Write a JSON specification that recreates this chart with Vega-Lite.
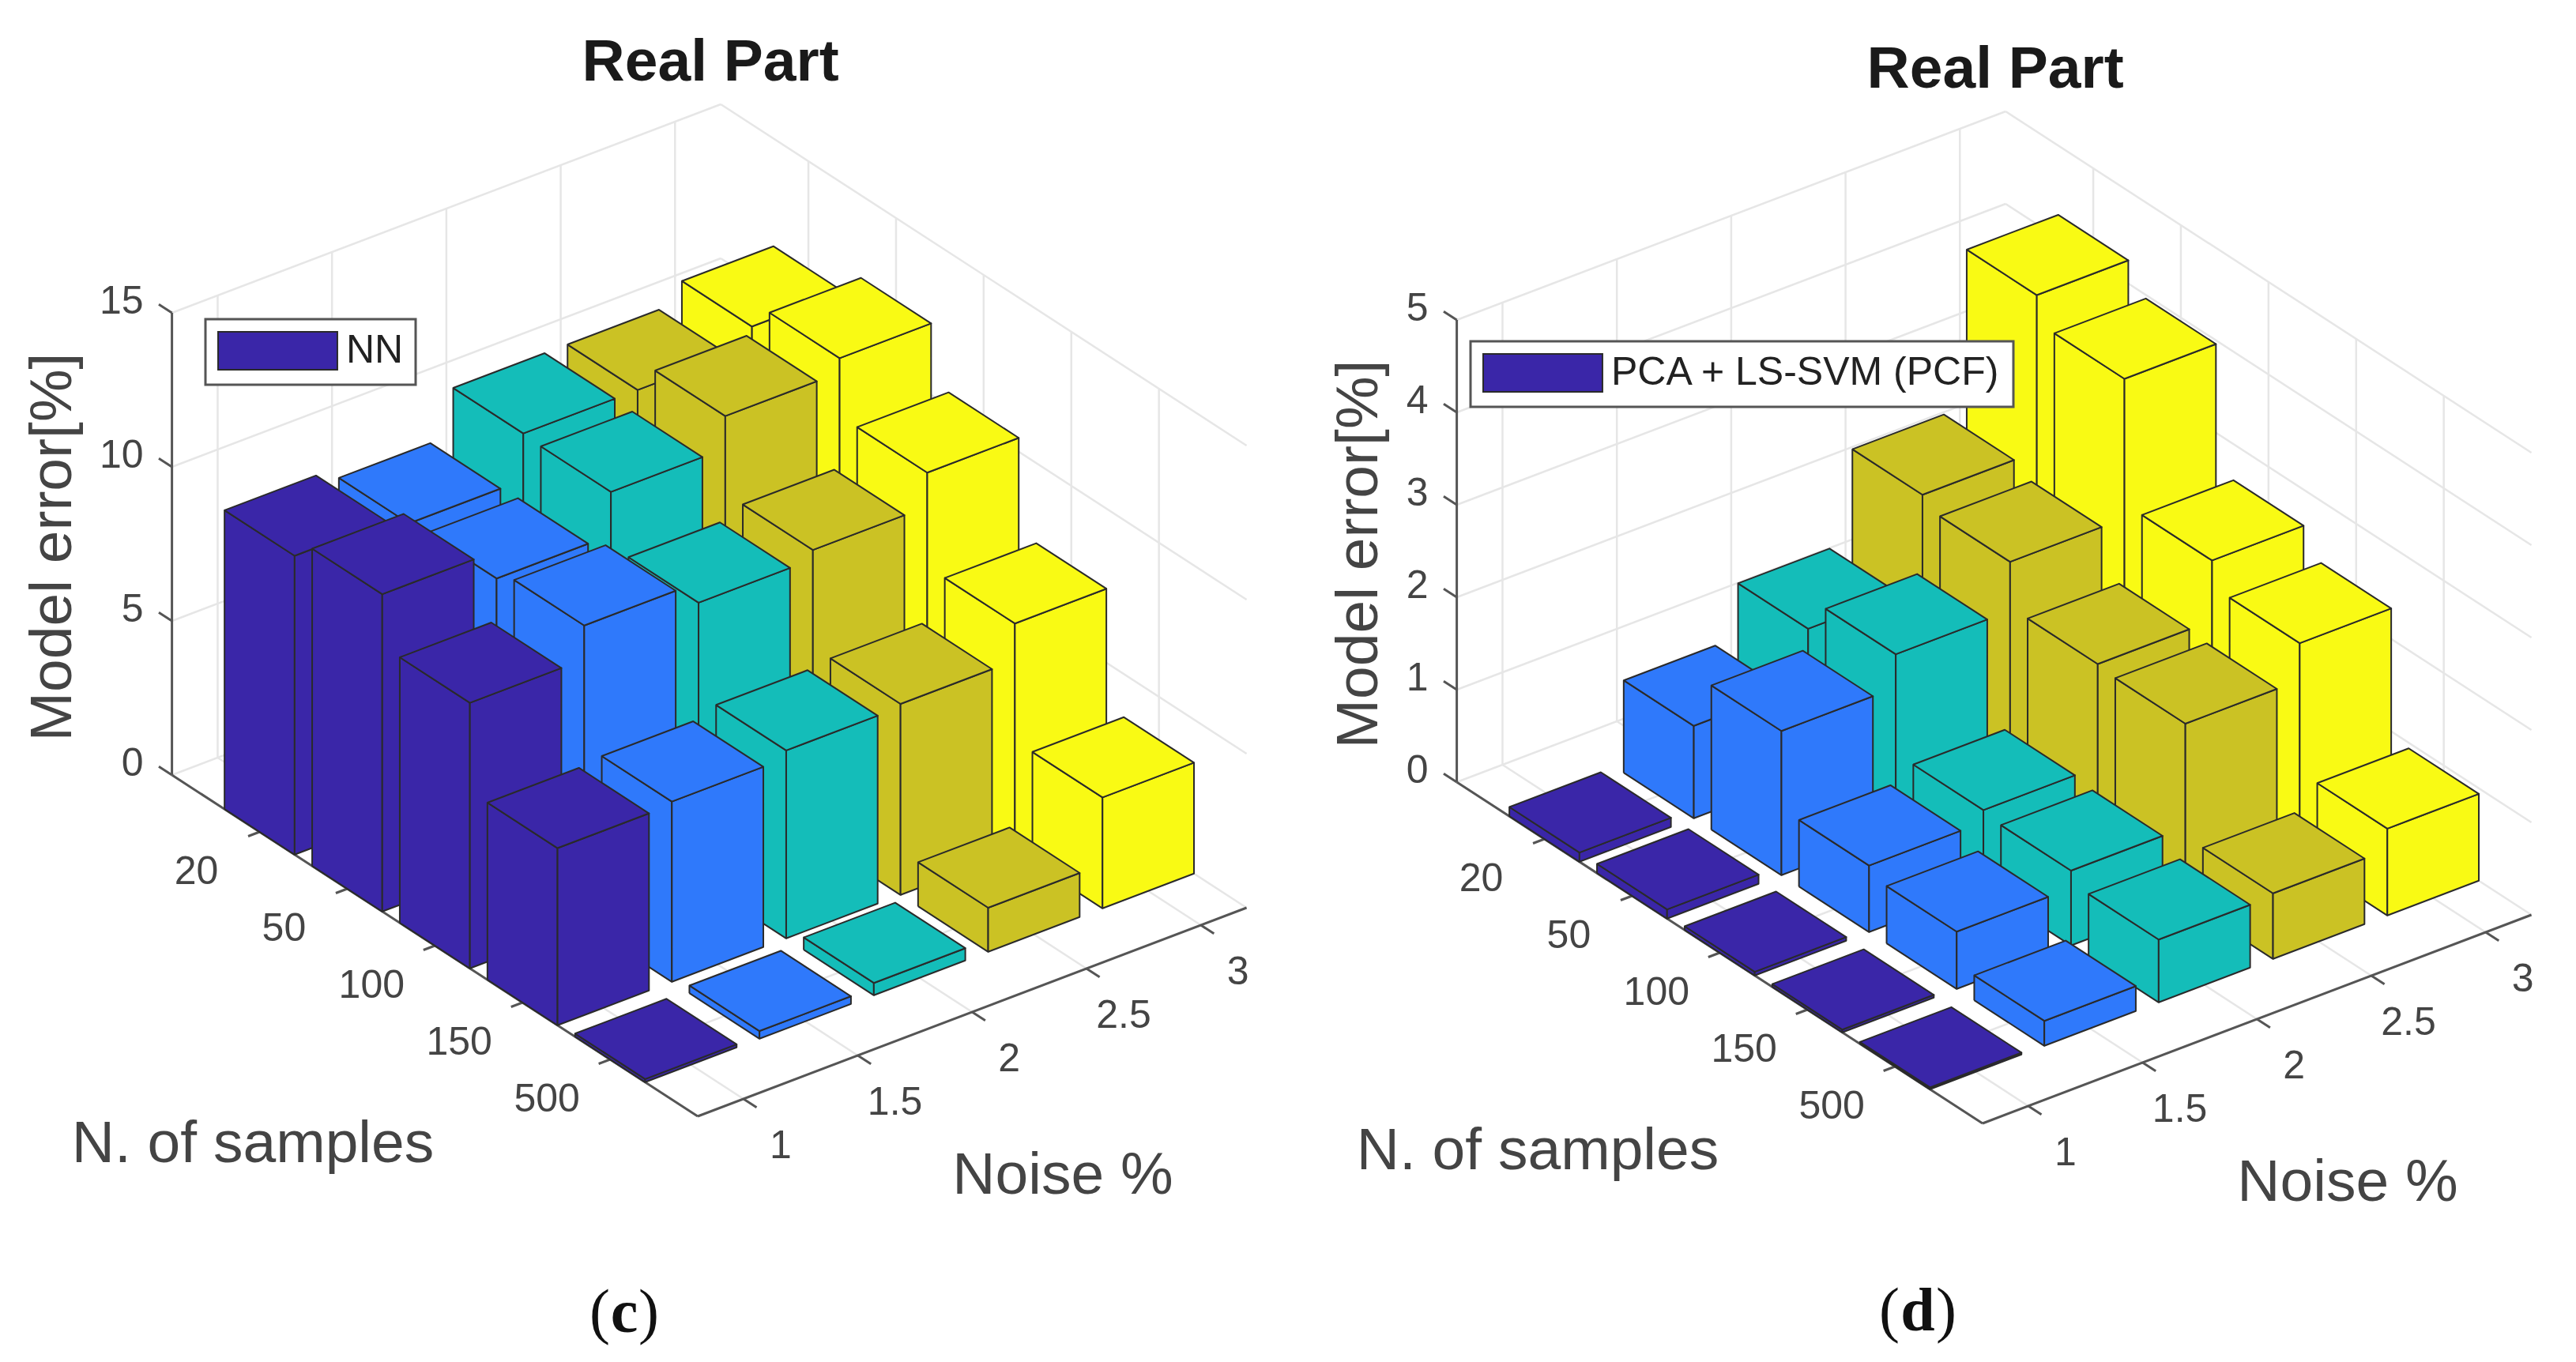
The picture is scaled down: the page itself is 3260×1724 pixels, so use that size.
{
"$schema":"https://vega.github.io/schema/vega-lite/v6.json",
"width":3260,"height":1724,"padding":0,"autosize":{"type":"none"},"background":"white",
"config":{"view":{"stroke":null},"legend":{"strokeWidth":3}},
"datasets":{
"panels":[
{"panel":"c","title":"Real Part","samplesTitle":"N. of samples","noiseTitle":"Noise %","errorTitle":"Model error[%]","caption":"c"},
{"panel":"d","title":"Real Part","samplesTitle":"N. of samples","noiseTitle":"Noise %","errorTitle":"Model error[%]","caption":"d"}],
"ticks":[
{"panel":"c","axis":"s","value":20},{"panel":"c","axis":"s","value":50},{"panel":"c","axis":"s","value":100},{"panel":"c","axis":"s","value":150},{"panel":"c","axis":"s","value":500},
{"panel":"c","axis":"n","value":1},{"panel":"c","axis":"n","value":1.5},{"panel":"c","axis":"n","value":2},{"panel":"c","axis":"n","value":2.5},{"panel":"c","axis":"n","value":3},
{"panel":"c","axis":"z","value":0},{"panel":"c","axis":"z","value":5},{"panel":"c","axis":"z","value":10},{"panel":"c","axis":"z","value":15},
{"panel":"d","axis":"s","value":20},{"panel":"d","axis":"s","value":50},{"panel":"d","axis":"s","value":100},{"panel":"d","axis":"s","value":150},{"panel":"d","axis":"s","value":500},
{"panel":"d","axis":"n","value":1},{"panel":"d","axis":"n","value":1.5},{"panel":"d","axis":"n","value":2},{"panel":"d","axis":"n","value":2.5},{"panel":"d","axis":"n","value":3},
{"panel":"d","axis":"z","value":0},{"panel":"d","axis":"z","value":1},{"panel":"d","axis":"z","value":2},{"panel":"d","axis":"z","value":3},{"panel":"d","axis":"z","value":4},{"panel":"d","axis":"z","value":5}],
"bars":[
{"panel":"c","method":"NN","noise":3,"samples":20,"error":11.5},{"panel":"c","method":"NN","noise":3,"samples":50,"error":12.32},{"panel":"c","method":"NN","noise":3,"samples":100,"error":10.45},{"panel":"c","method":"NN","noise":3,"samples":150,"error":7.4},{"panel":"c","method":"NN","noise":3,"samples":500,"error":3.6},
{"panel":"c","method":"NN","noise":2.5,"samples":20,"error":10.85},{"panel":"c","method":"NN","noise":2.5,"samples":50,"error":11.85},{"panel":"c","method":"NN","noise":2.5,"samples":100,"error":9.35},{"panel":"c","method":"NN","noise":2.5,"samples":150,"error":6.2},{"panel":"c","method":"NN","noise":2.5,"samples":500,"error":1.43},
{"panel":"c","method":"NN","noise":2,"samples":20,"error":10.85},{"panel":"c","method":"NN","noise":2,"samples":50,"error":10.8},{"panel":"c","method":"NN","noise":2,"samples":100,"error":9.05},{"panel":"c","method":"NN","noise":2,"samples":150,"error":6.1},{"panel":"c","method":"NN","noise":2,"samples":500,"error":0.4},
{"panel":"c","method":"NN","noise":1.5,"samples":20,"error":9.34},{"panel":"c","method":"NN","noise":1.5,"samples":50,"error":9.4},{"panel":"c","method":"NN","noise":1.5,"samples":100,"error":9.72},{"panel":"c","method":"NN","noise":1.5,"samples":150,"error":5.85},{"panel":"c","method":"NN","noise":1.5,"samples":500,"error":0.25},
{"panel":"c","method":"NN","noise":1,"samples":20,"error":9.7},{"panel":"c","method":"NN","noise":1,"samples":50,"error":10.3},{"panel":"c","method":"NN","noise":1,"samples":100,"error":8.62},{"panel":"c","method":"NN","noise":1,"samples":150,"error":5.75},{"panel":"c","method":"NN","noise":1,"samples":500,"error":0.1},
{"panel":"d","method":"PCA + LS-SVM (PCF)","noise":3,"samples":20,"error":4.25},{"panel":"d","method":"PCA + LS-SVM (PCF)","noise":3,"samples":50,"error":3.96},{"panel":"d","method":"PCA + LS-SVM (PCF)","noise":3,"samples":100,"error":2.61},{"panel":"d","method":"PCA + LS-SVM (PCF)","noise":3,"samples":150,"error":2.33},{"panel":"d","method":"PCA + LS-SVM (PCF)","noise":3,"samples":500,"error":0.94},
{"panel":"d","method":"PCA + LS-SVM (PCF)","noise":2.5,"samples":20,"error":2.56},{"panel":"d","method":"PCA + LS-SVM (PCF)","noise":2.5,"samples":50,"error":2.45},{"panel":"d","method":"PCA + LS-SVM (PCF)","noise":2.5,"samples":100,"error":1.96},{"panel":"d","method":"PCA + LS-SVM (PCF)","noise":2.5,"samples":150,"error":1.93},{"panel":"d","method":"PCA + LS-SVM (PCF)","noise":2.5,"samples":500,"error":0.71},
{"panel":"d","method":"PCA + LS-SVM (PCF)","noise":2,"samples":20,"error":1.58},{"panel":"d","method":"PCA + LS-SVM (PCF)","noise":2,"samples":50,"error":1.92},{"panel":"d","method":"PCA + LS-SVM (PCF)","noise":2,"samples":100,"error":0.85},{"panel":"d","method":"PCA + LS-SVM (PCF)","noise":2,"samples":150,"error":0.81},{"panel":"d","method":"PCA + LS-SVM (PCF)","noise":2,"samples":500,"error":0.68},
{"panel":"d","method":"PCA + LS-SVM (PCF)","noise":1.5,"samples":20,"error":1.0},{"panel":"d","method":"PCA + LS-SVM (PCF)","noise":1.5,"samples":50,"error":1.56},{"panel":"d","method":"PCA + LS-SVM (PCF)","noise":1.5,"samples":100,"error":0.72},{"panel":"d","method":"PCA + LS-SVM (PCF)","noise":1.5,"samples":150,"error":0.62},{"panel":"d","method":"PCA + LS-SVM (PCF)","noise":1.5,"samples":500,"error":0.27},
{"panel":"d","method":"PCA + LS-SVM (PCF)","noise":1,"samples":20,"error":0.1},{"panel":"d","method":"PCA + LS-SVM (PCF)","noise":1,"samples":50,"error":0.1},{"panel":"d","method":"PCA + LS-SVM (PCF)","noise":1,"samples":100,"error":0.04},{"panel":"d","method":"PCA + LS-SVM (PCF)","noise":1,"samples":150,"error":0.03},{"panel":"d","method":"PCA + LS-SVM (PCF)","noise":1,"samples":500,"error":0.02}]
},
"encoding":{
"x":{"field":"px","type":"quantitative","axis":null,"scale":{"domain":[0,3260],"nice":false,"zero":false}},
"y":{"field":"py","type":"quantitative","axis":null,"scale":{"domain":[1724,0],"nice":false,"zero":false}}
},
"resolve":{"scale":{"fill":"independent"},"legend":{"fill":"independent"}},
"layer":[
{"data":{"name":"ticks"},
"transform":[
{"calculate":"datum.axis=='s'?indexof([20,50,100,150,500],datum.value)+1:datum.axis=='n'?(datum.value-1)*2+1:datum.value","as":"i"},
{"calculate":"datum.panel=='c'?15:5","as":"top"},
{"calculate":"datum.axis=='s'?[[datum.i,0.6,0,datum.i,5.4,0],[datum.i,5.4,0,datum.i,5.4,datum.top]]:datum.axis=='n'?[[0,datum.i,0,6,datum.i,0],[0,datum.i,0,0,datum.i,datum.top]]:[[0,0.6,datum.i,0,5.4,datum.i],[0,5.4,datum.i,6,5.4,datum.i]]","as":"seg"},
{"flatten":["seg"]},
{"calculate":"(datum.panel=='c'?883:2509)+(datum.seg[0]-6)*110.9+(datum.seg[1]-0.6)*144.7","as":"px"},
{"calculate":"(datum.panel=='c'?1413:1422)+(datum.seg[0]-6)*72-(datum.seg[1]-0.6)*55-datum.seg[2]*(datum.panel=='c'?39:117)","as":"py"},
{"calculate":"(datum.panel=='c'?883:2509)+(datum.seg[3]-6)*110.9+(datum.seg[4]-0.6)*144.7","as":"qx"},
{"calculate":"(datum.panel=='c'?1413:1422)+(datum.seg[3]-6)*72-(datum.seg[4]-0.6)*55-datum.seg[5]*(datum.panel=='c'?39:117)","as":"qy"}],
"mark":{"type":"rule","color":"#e6e6e6","strokeWidth":2.5},
"encoding":{"x2":{"field":"qx"},"y2":{"field":"qy"}}},
{"data":{"name":"ticks"},
"transform":[
{"calculate":"datum.axis=='s'?indexof([20,50,100,150,500],datum.value)+1:datum.axis=='n'?(datum.value-1)*2+1:datum.value","as":"i"},
{"calculate":"datum.axis=='s'?[datum.i,0.6,0,datum.i,0.5,0]:datum.axis=='n'?[6,datum.i,0,6.15,datum.i,0]:[0,0.6,datum.i,-0.15,0.6,datum.i]","as":"seg"},
{"calculate":"(datum.panel=='c'?883:2509)+(datum.seg[0]-6)*110.9+(datum.seg[1]-0.6)*144.7","as":"px"},
{"calculate":"(datum.panel=='c'?1413:1422)+(datum.seg[0]-6)*72-(datum.seg[1]-0.6)*55-datum.seg[2]*(datum.panel=='c'?39:117)","as":"py"},
{"calculate":"(datum.panel=='c'?883:2509)+(datum.seg[3]-6)*110.9+(datum.seg[4]-0.6)*144.7","as":"qx"},
{"calculate":"(datum.panel=='c'?1413:1422)+(datum.seg[3]-6)*72-(datum.seg[4]-0.6)*55-datum.seg[5]*(datum.panel=='c'?39:117)","as":"qy"}],
"mark":{"type":"rule","color":"#555555","strokeWidth":3},
"encoding":{"x2":{"field":"qx"},"y2":{"field":"qy"}}},
{"data":{"name":"panels"},
"transform":[
{"calculate":"datum.panel=='c'?15:5","as":"top"},
{"calculate":"[[0,0.6,0,6,0.6,0],[6,0.6,0,6,5.4,0],[0,0.6,0,0,0.6,datum.top]]","as":"seg"},
{"flatten":["seg"]},
{"calculate":"(datum.panel=='c'?883:2509)+(datum.seg[0]-6)*110.9+(datum.seg[1]-0.6)*144.7","as":"px"},
{"calculate":"(datum.panel=='c'?1413:1422)+(datum.seg[0]-6)*72-(datum.seg[1]-0.6)*55-datum.seg[2]*(datum.panel=='c'?39:117)","as":"py"},
{"calculate":"(datum.panel=='c'?883:2509)+(datum.seg[3]-6)*110.9+(datum.seg[4]-0.6)*144.7","as":"qx"},
{"calculate":"(datum.panel=='c'?1413:1422)+(datum.seg[3]-6)*72-(datum.seg[4]-0.6)*55-datum.seg[5]*(datum.panel=='c'?39:117)","as":"qy"}],
"mark":{"type":"rule","color":"#555555","strokeWidth":3},
"encoding":{"x2":{"field":"qx"},"y2":{"field":"qy"}}},
{"data":{"name":"bars"},
"transform":[
{"filter":"datum.noise>1"},
{"calculate":"[[-0.4,-0.4,0,0,0],[0.4,-0.4,0,0,1],[0.4,-0.4,1,0,2],[-0.4,-0.4,1,0,3],[-0.4,-0.4,0,0,4],[0.4,-0.4,0,1,0],[0.4,0.4,0,1,1],[0.4,0.4,1,1,2],[0.4,-0.4,1,1,3],[0.4,-0.4,0,1,4],[-0.4,-0.4,1,2,0],[0.4,-0.4,1,2,1],[0.4,0.4,1,2,2],[-0.4,0.4,1,2,3],[-0.4,-0.4,1,2,4]]","as":"vert"},
{"flatten":["vert"]},
{"calculate":"indexof([20,50,100,150,500],datum.samples)+1+datum.vert[0]","as":"a"},
{"calculate":"(datum.noise-1)*2+1+datum.vert[1]","as":"b"},
{"calculate":"datum.vert[3]","as":"face"},
{"calculate":"datum.vert[4]","as":"v"},
{"calculate":"(datum.panel=='c'?883:2509)+(datum.a-6)*110.9+(datum.b-0.6)*144.7","as":"px"},
{"calculate":"(datum.panel=='c'?1413:1422)+(datum.a-6)*72-(datum.b-0.6)*55-datum.vert[2]*datum.error*(datum.panel=='c'?39:117)","as":"py"}],
"mark":{"type":"line","stroke":"#2a2a2a","strokeWidth":2,"strokeJoin":"round","point":false},
"encoding":{
"fill":{"field":"noise","type":"ordinal","legend":null,"scale":{"domain":[1.5,2,2.5,3],"range":["#2f79fb","#14bdb9","#cbc224","#f9fa14"]}},
"detail":[{"field":"panel"},{"field":"samples"},{"field":"face"}],
"order":{"field":"v"}}},
{"data":{"name":"bars"},
"transform":[
{"filter":"datum.noise==1 && datum.panel=='c'"},
{"calculate":"[[-0.4,-0.4,0,0,0],[0.4,-0.4,0,0,1],[0.4,-0.4,1,0,2],[-0.4,-0.4,1,0,3],[-0.4,-0.4,0,0,4],[0.4,-0.4,0,1,0],[0.4,0.4,0,1,1],[0.4,0.4,1,1,2],[0.4,-0.4,1,1,3],[0.4,-0.4,0,1,4],[-0.4,-0.4,1,2,0],[0.4,-0.4,1,2,1],[0.4,0.4,1,2,2],[-0.4,0.4,1,2,3],[-0.4,-0.4,1,2,4]]","as":"vert"},
{"flatten":["vert"]},
{"calculate":"indexof([20,50,100,150,500],datum.samples)+1+datum.vert[0]","as":"a"},
{"calculate":"(datum.noise-1)*2+1+datum.vert[1]","as":"b"},
{"calculate":"datum.vert[3]","as":"face"},
{"calculate":"datum.vert[4]","as":"v"},
{"calculate":"(datum.panel=='c'?883:2509)+(datum.a-6)*110.9+(datum.b-0.6)*144.7","as":"px"},
{"calculate":"(datum.panel=='c'?1413:1422)+(datum.a-6)*72-(datum.b-0.6)*55-datum.vert[2]*datum.error*(datum.panel=='c'?39:117)","as":"py"}],
"mark":{"type":"line","stroke":"#2a2a2a","strokeWidth":2,"strokeJoin":"round"},
"encoding":{
"fill":{"field":"method","type":"nominal","scale":{"range":["#3a26a8"]},"legend":{"orient":"none","legendX":260,"legendY":404,"title":null,"fillColor":"white","strokeColor":"#555555","padding":15,"symbolType":"M-1,-1H5.29V1H-1Z","symbolSize":2304,"labelOffset":113,"labelFontSize":50,"labelFont":"Liberation Sans","labelColor":"#222222","labelLimit":1200,"symbolStrokeColor":"#2a2a2a","symbolStrokeWidth":2}},
"detail":[{"field":"panel"},{"field":"samples"},{"field":"face"}],
"order":{"field":"v"}}},
{"data":{"name":"bars"},
"transform":[
{"filter":"datum.noise==1 && datum.panel=='d'"},
{"calculate":"[[-0.4,-0.4,0,0,0],[0.4,-0.4,0,0,1],[0.4,-0.4,1,0,2],[-0.4,-0.4,1,0,3],[-0.4,-0.4,0,0,4],[0.4,-0.4,0,1,0],[0.4,0.4,0,1,1],[0.4,0.4,1,1,2],[0.4,-0.4,1,1,3],[0.4,-0.4,0,1,4],[-0.4,-0.4,1,2,0],[0.4,-0.4,1,2,1],[0.4,0.4,1,2,2],[-0.4,0.4,1,2,3],[-0.4,-0.4,1,2,4]]","as":"vert"},
{"flatten":["vert"]},
{"calculate":"indexof([20,50,100,150,500],datum.samples)+1+datum.vert[0]","as":"a"},
{"calculate":"(datum.noise-1)*2+1+datum.vert[1]","as":"b"},
{"calculate":"datum.vert[3]","as":"face"},
{"calculate":"datum.vert[4]","as":"v"},
{"calculate":"(datum.panel=='c'?883:2509)+(datum.a-6)*110.9+(datum.b-0.6)*144.7","as":"px"},
{"calculate":"(datum.panel=='c'?1413:1422)+(datum.a-6)*72-(datum.b-0.6)*55-datum.vert[2]*datum.error*(datum.panel=='c'?39:117)","as":"py"}],
"mark":{"type":"line","stroke":"#2a2a2a","strokeWidth":2,"strokeJoin":"round"},
"encoding":{
"fill":{"field":"method","type":"nominal","scale":{"range":["#3a26a8"]},"legend":{"orient":"none","legendX":1861,"legendY":432,"title":null,"fillColor":"white","strokeColor":"#555555","padding":15,"symbolType":"M-1,-1H5.29V1H-1Z","symbolSize":2304,"labelOffset":113,"labelFontSize":50,"labelFont":"Liberation Sans","labelColor":"#222222","labelLimit":1200,"symbolStrokeColor":"#2a2a2a","symbolStrokeWidth":2}},
"detail":[{"field":"panel"},{"field":"samples"},{"field":"face"}],
"order":{"field":"v"}}},
{"data":{"name":"ticks"},
"transform":[{"filter":"datum.axis=='s'"},
{"calculate":"indexof([20,50,100,150,500],datum.value)+1","as":"i"},
{"calculate":"(datum.panel=='c'?883:2509)+(datum.i-6)*110.9","as":"px"},
{"calculate":"(datum.panel=='c'?1413:1422)+(datum.i-6)*72","as":"py"}],
"mark":{"type":"text","font":"Liberation Sans","fontSize":50,"color":"#444444","align":"center","baseline":"middle","dx":-80,"dy":51},
"encoding":{"text":{"field":"value","type":"nominal"}}},
{"data":{"name":"ticks"},
"transform":[{"filter":"datum.axis=='n'"},
{"calculate":"(datum.value-1)*2+1","as":"i"},
{"calculate":"(datum.panel=='c'?883:2509)+(datum.i-0.6)*144.7","as":"px"},
{"calculate":"(datum.panel=='c'?1413:1422)-(datum.i-0.6)*55","as":"py"}],
"mark":{"type":"text","font":"Liberation Sans","fontSize":50,"color":"#444444","align":"center","baseline":"middle","dx":47,"dy":60},
"encoding":{"text":{"field":"value","type":"nominal"}}},
{"data":{"name":"ticks"},
"transform":[{"filter":"datum.axis=='z'"},
{"calculate":"(datum.panel=='c'?883:2509)-6*110.9","as":"px"},
{"calculate":"(datum.panel=='c'?1413:1422)-6*72-datum.value*(datum.panel=='c'?39:117)","as":"py"}],
"mark":{"type":"text","font":"Liberation Sans","fontSize":50,"color":"#444444","align":"right","baseline":"middle","dx":-36,"dy":-14},
"encoding":{"text":{"field":"value","type":"nominal"}}},
{"data":{"name":"panels"},
"transform":[
{"calculate":"(datum.panel=='c'?883:2509)-6*110.9+4.8*144.7","as":"px"},
{"calculate":"(datum.panel=='c'?1413:1422)-6*72-4.8*55-(datum.panel=='c'?15*39:5*117)","as":"py"}],
"mark":{"type":"text","font":"Liberation Sans","fontWeight":"bold","fontSize":75,"color":"#1a1a1a","align":"center","baseline":"middle","dx":-13,"dy":-53},
"encoding":{"text":{"field":"title"}}},
{"data":{"name":"panels"},
"transform":[
{"calculate":"(datum.panel=='c'?883:2509)","as":"px"},
{"calculate":"(datum.panel=='c'?1413:1422)","as":"py"}],
"mark":{"type":"text","font":"Liberation Sans","fontSize":75,"color":"#444444","align":"center","baseline":"middle","dx":-563,"dy":35},
"encoding":{"text":{"field":"samplesTitle"}}},
{"data":{"name":"panels"},
"transform":[
{"calculate":"(datum.panel=='c'?883:2509)","as":"px"},
{"calculate":"(datum.panel=='c'?1413:1422)","as":"py"}],
"mark":{"type":"text","font":"Liberation Sans","fontSize":75,"color":"#444444","align":"center","baseline":"middle","dx":462,"dy":75},
"encoding":{"text":{"field":"noiseTitle"}}},
{"data":{"name":"panels"},
"transform":[
{"calculate":"(datum.panel=='c'?883:2509)-6*110.9-(datum.panel=='c'?151:124)","as":"px"},
{"calculate":"(datum.panel=='c'?1413:1422)-6*72-2.5*117+4","as":"py"}],
"mark":{"type":"text","font":"Liberation Sans","fontSize":75,"color":"#444444","align":"center","baseline":"middle","angle":270},
"encoding":{"text":{"field":"errorTitle"}}},
{"data":{"name":"panels"},
"transform":[
{"calculate":"(datum.panel=='c'?883-93:2509-82)","as":"px"},
{"calculate":"(datum.panel=='c'?1413:1422)+(datum.panel=='c'?250:239)","as":"py"}],
"mark":{"type":"text","font":"Liberation Serif","fontWeight":"bold","fontSize":78,"color":"#111111","align":"center","baseline":"middle"},
"encoding":{"text":{"field":"caption"}}},
{"data":{"name":"panels"},
"transform":[
{"calculate":"(datum.panel=='c'?883-93-18:2509-82-23)","as":"px"},
{"calculate":"(datum.panel=='c'?1413:1422)+(datum.panel=='c'?250:239)","as":"py"},
{"calculate":"'('","as":"paren"}],
"mark":{"type":"text","font":"Liberation Serif","fontSize":78,"color":"#111111","align":"right","baseline":"middle"},
"encoding":{"text":{"field":"paren"}}},
{"data":{"name":"panels"},
"transform":[
{"calculate":"(datum.panel=='c'?883-93+18:2509-82+23)","as":"px"},
{"calculate":"(datum.panel=='c'?1413:1422)+(datum.panel=='c'?250:239)","as":"py"},
{"calculate":"')'","as":"paren"}],
"mark":{"type":"text","font":"Liberation Serif","fontSize":78,"color":"#111111","align":"left","baseline":"middle"},
"encoding":{"text":{"field":"paren"}}}
]
}
